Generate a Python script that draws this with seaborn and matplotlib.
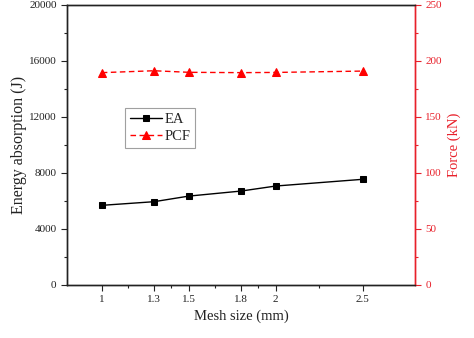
import matplotlib
matplotlib.use("Agg")
import matplotlib.pyplot as plt
import seaborn as sns
import pandas as pd
from matplotlib.ticker import FixedLocator, MultipleLocator

mesh_size = [1, 1.3, 1.5, 1.8, 2, 2.5]
mesh_labels = ["1", "1.3", "1.5", "1.8", "2", "2.5"]
energy_absorption = [5690, 5950, 6350, 6710, 7070, 7550]
peak_force = [189.6, 191.3, 189.9, 189.6, 189.8, 191.0]

sns.set_theme(style="white")
plt.rcParams["font.family"] = ["Liberation Serif", "DejaVu Serif"]

df = pd.DataFrame({"mesh": mesh_size, "EA": energy_absorption, "PCF": peak_force})

fig = plt.figure(figsize=(4.74, 3.38), dpi=100)
ax = fig.add_axes([67 / 474, 53 / 338, 348 / 474, 280 / 338])
ax2 = ax.twinx()

sns.lineplot(data=df, x="mesh", y="EA", ax=ax, color="black", marker="s",
             markersize=5, markeredgecolor="black", linewidth=1.0, label="EA",
             legend=False)
sns.lineplot(data=df, x="mesh", y="PCF", ax=ax2, color="red", marker="^",
             markersize=6, markeredgecolor="red", linewidth=1.0,
             linestyle=(0, (4, 2.5)), label="PCF", legend=False)

ax.set_xlim(0.8, 2.8)
ax.set_ylim(0, 20000)
ax2.set_ylim(0, 250)

ax.xaxis.set_major_locator(FixedLocator(mesh_size))
ax.set_xticklabels(mesh_labels)
mids = [(a + b) / 2 for a, b in zip(mesh_size[:-1], mesh_size[1:])]
ax.xaxis.set_minor_locator(FixedLocator(mids))
ax.yaxis.set_major_locator(MultipleLocator(4000))
ax.yaxis.set_minor_locator(MultipleLocator(2000))
ax2.yaxis.set_major_locator(MultipleLocator(50))
ax2.yaxis.set_minor_locator(MultipleLocator(25))

ax.set_xlabel("Mesh size (mm)", fontsize=10.5, color="#222222")
ax.set_ylabel("Energy absorption (J)", fontsize=11.5, color="#222222", labelpad=1)
ax2.set_ylabel("Force (kN)", fontsize=10.5, color="#e8202a")

ax.tick_params(axis="both", which="major", direction="out", length=4,
               width=0.8, labelsize=8, colors="#222222", bottom=True, left=True)
ax.tick_params(axis="both", which="minor", direction="out", length=2.2,
               width=0.8, bottom=True, left=True, colors="#222222")
ax2.tick_params(axis="y", which="major", direction="out", length=4,
                width=0.8, labelsize=8, colors="#e8202a", right=True)
ax2.tick_params(axis="y", which="minor", direction="out", length=2.2,
                width=0.8, colors="#e8202a", right=True)

for a in (ax, ax2):
    for side in ("top", "bottom", "left"):
        a.spines[side].set_color("#222222")
        a.spines[side].set_linewidth(1.0)
    a.spines["right"].set_color("#e8202a")
    a.spines["right"].set_linewidth(1.0)

h1, l1 = ax.get_legend_handles_labels()
h2, l2 = ax2.get_legend_handles_labels()
leg = ax.legend(h1 + h2, l1 + l2, loc="upper left",
                bbox_to_anchor=(58 / 348, 1 - 103 / 280), fontsize=10.5,
                frameon=True, fancybox=False, edgecolor="#888888",
                handlelength=2.2, borderpad=0.35, labelspacing=0.25,
                handletextpad=0.15, borderaxespad=0)
leg.get_frame().set_linewidth(0.8)

fig.savefig("out.png", dpi=100)
